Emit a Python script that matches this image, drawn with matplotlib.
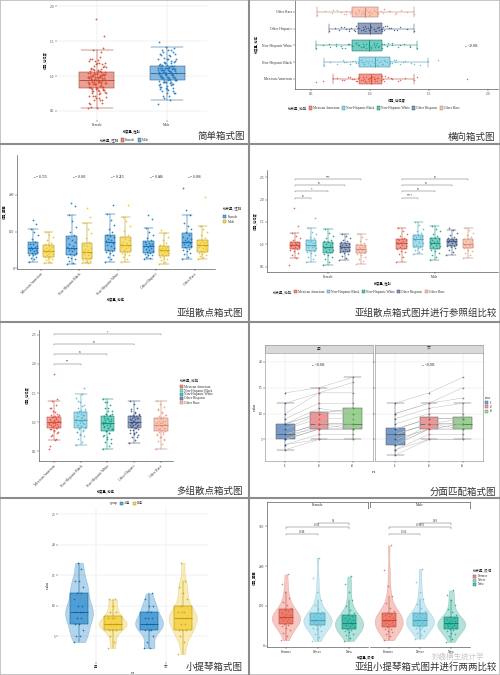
import numpy as np
import matplotlib
matplotlib.use("Agg")
import matplotlib.pyplot as plt
from matplotlib.patches import Rectangle
from matplotlib.lines import Line2D
from matplotlib.colors import to_rgba, to_rgb

W, H = 500, 675
SERIF = ['Liberation Serif', 'Noto Sans CJK SC']
CJK = ['Noto Sans CJK SC', 'DejaVu Sans']
plt.rcParams['font.family'] = SERIF
plt.rcParams['mathtext.fontset'] = 'stix'
plt.rcParams['axes.linewidth'] = 0.4

# ---------------- data ----------------
races = ['Mexican American', 'Non-Hispanic Black', 'Non-Hispanic White', 'Other Hispanic', 'Other Race']
race_colors = ['#E64B35', '#4DBBD5', '#00A087', '#3C5488', '#F39B7F']
sexes = ['Female', 'Male']
sex_colors = ['#D6452B', '#1A77C0']
jco = ['#0073C2', '#EFC000']

# 结局_伴侣度 by sex x race
f_ratio = [
    [0.54, 0.69, 0.76, 0.81, 0.85, 0.88, 0.90, 0.92, 0.94, 0.95, 0.96, 0.97, 0.985, 0.99, 1.00, 1.01, 1.02, 1.03, 1.04, 1.06, 1.09, 1.13, 1.18, 1.25, 1.40, 1.82],
    [0.61, 0.66, 0.72, 0.77, 0.80, 0.83, 0.85, 0.88, 0.91, 0.93, 0.95, 0.97, 0.985, 1.00, 1.02, 1.04, 1.06, 1.08, 1.10, 1.13, 1.17, 1.22, 1.28, 1.37, 1.58],
    [0.54, 0.60, 0.66, 0.71, 0.75, 0.79, 0.82, 0.85, 0.88, 0.90, 0.92, 0.94, 0.95, 0.97, 0.99, 1.01, 1.03, 1.05, 1.07, 1.10, 1.14, 1.19, 1.25, 1.34],
    [0.65, 0.70, 0.74, 0.78, 0.80, 0.82, 0.84, 0.86, 0.88, 0.90, 0.92, 0.94, 0.95, 0.96, 0.98, 0.99, 1.01, 1.03, 1.04, 1.07, 1.10, 1.14, 1.18, 1.23],
    [0.55, 0.62, 0.68, 0.72, 0.75, 0.78, 0.80, 0.83, 0.85, 0.87, 0.88, 0.90, 0.91, 0.92, 0.94, 0.95, 0.97, 0.99, 1.00, 1.03, 1.07, 1.12, 1.17, 1.22],
]
m_ratio = [
    [0.60, 0.72, 0.78, 0.83, 0.86, 0.89, 0.91, 0.94, 0.97, 0.99, 1.01, 1.03, 1.045, 1.06, 1.07, 1.09, 1.10, 1.11, 1.12, 1.15, 1.19, 1.24, 1.30, 1.37],
    [0.78, 0.83, 0.87, 0.90, 0.92, 0.94, 0.95, 0.99, 1.03, 1.06, 1.09, 1.11, 1.12, 1.14, 1.16, 1.17, 1.19, 1.20, 1.21, 1.25, 1.30, 1.35, 1.42, 1.49],
    [0.65, 0.71, 0.76, 0.81, 0.85, 0.88, 0.91, 0.94, 0.97, 0.99, 1.01, 1.03, 1.045, 1.06, 1.08, 1.10, 1.12, 1.14, 1.15, 1.19, 1.24, 1.29, 1.34, 1.40],
    [0.75, 0.82, 0.87, 0.91, 0.94, 0.96, 0.97, 0.99, 1.01, 1.03, 1.05, 1.06, 1.075, 1.08, 1.09, 1.10, 1.11, 1.12, 1.13, 1.16, 1.20, 1.25, 1.31, 1.37],
    [0.69, 0.75, 0.80, 0.84, 0.88, 0.91, 0.93, 0.95, 0.97, 0.98, 0.99, 1.00, 1.015, 1.03, 1.05, 1.07, 1.09, 1.11, 1.12, 1.16, 1.21, 1.26, 1.31, 1.37],
]

# second outcome (0-220) by sex x race
f_waist = [
    [18, 24, 28, 32, 35, 37, 38, 41, 44, 47, 49, 51, 53, 55, 57, 59, 62, 65, 67, 72, 80, 90, 100, 108, 122, 132],
    [11, 15, 20, 25, 29, 32, 35, 39, 43, 47, 50, 53, 55, 58, 62, 67, 72, 77, 82, 90, 100, 112, 128, 145, 170, 179],
    [16, 24, 31, 37, 41, 44, 47, 51, 56, 60, 64, 68, 71, 74, 77, 80, 84, 88, 91, 98, 107, 118, 132, 147, 173],
    [25, 29, 32, 35, 37, 39, 41, 44, 47, 50, 53, 56, 59, 61, 63, 65, 67, 69, 71, 76, 83, 91, 100, 109, 135, 145],
    [25, 32, 38, 43, 47, 50, 53, 57, 60, 63, 66, 69, 71, 73, 75, 77, 80, 83, 86, 92, 100, 108, 116, 123, 145, 160, 218],
]
m_waist = [
    [14, 18, 22, 25, 28, 30, 32, 35, 38, 41, 44, 47, 49, 51, 53, 56, 59, 62, 65, 70, 76, 84, 92, 100],
    [14, 15, 17, 19, 21, 23, 25, 28, 31, 35, 39, 42, 44, 47, 50, 53, 56, 60, 64, 72, 82, 95, 108, 123, 140, 164],
    [18, 25, 31, 36, 40, 43, 45, 49, 53, 56, 59, 62, 64, 67, 70, 73, 77, 81, 84, 92, 102, 114, 128, 140, 173],
    [11, 17, 22, 26, 29, 32, 35, 38, 41, 44, 46, 48, 50, 52, 54, 56, 58, 61, 64, 70, 78, 86, 95, 105],
    [25, 30, 34, 37, 40, 42, 44, 48, 52, 55, 58, 61, 64, 66, 68, 70, 72, 75, 77, 83, 90, 98, 106, 114, 195],
]
p_text3 = ['0.755', '0.031', '0.215', '0.046', '0.036']

# reference-group comparisons
ref_sig4_f = ['ns', '*', 'ns', '***']
ref_sig4_m = ['****', 'ns', 'ns', 'ns']
ref_sig5 = ['**', 'ns', 'ns', '*']

# paired data (subject per index), t1/t2/t3
times = ['t1', 't2', 't3']
time_colors = ['#3F6FB0', '#F06565', '#6DBE62']
paired_m = [
    [3, 4, 4, 5, 5, 5, 5, 6, 6, 6, 6, 7, 7, 8, 8, 8, 9, 10, 12, 14],
    [5, 5, 6, 8, 7, 7, 7, 8, 7, 8, 8, 9, 10, 10, 11, 10, 12, 14, 14, 15],
    [5, 5, 6, 7, 7, 7, 8, 8, 7, 8, 8, 9, 10, 11, 10, 11, 12, 14, 16, 17],
]
paired_f = [
    [2, 3, 3, 4, 4, 4, 5, 5, 6, 6, 6, 6, 7, 7, 7, 8, 9, 10, 10, 12],
    [5, 5, 6, 7, 7, 8, 7, 7, 8, 8, 8, 8, 9, 9, 9, 10, 11, 12, 12, 14],
    [5, 5, 6, 7, 7, 7, 8, 8, 8, 8, 9, 8, 9, 9, 9, 10, 12, 13, 15, 17],
]
facets6 = ['男', '女']

# violin data: sex x group
groups7 = ['A组', 'B组']
vio_m = [
    [4, 5, 5, 6, 7, 7, 8, 8, 9, 9, 9, 10, 10, 11, 12, 12, 13, 14, 14, 16, 17],
    [3, 4, 5, 6, 6, 6, 7, 7, 7, 7, 7, 7, 8, 8, 8, 9, 9, 10, 11, 11],
]
vio_f = [
    [3, 3, 4, 5, 6, 6, 6, 7, 7, 7, 7, 8, 8, 8, 9, 9, 10, 10, 11, 12],
    [2, 4, 5, 6, 6, 6, 7, 7, 8, 8, 8, 8, 9, 9, 9, 10, 11, 12, 13, 14, 17],
]

# smoking groups by sex
smoke = ['Former', 'Never', 'Now']
smoke_colors = ['#E64B35', '#4DBBD5', '#00A087']
smk_f = [
    [14, 25, 33, 40, 45, 49, 52, 55, 58, 61, 64, 67, 69, 71, 72, 74, 77, 80, 83, 87, 91, 96, 102, 110, 120, 135, 155, 179],
    [12, 22, 30, 36, 41, 45, 49, 52, 55, 57, 59, 61, 62, 63, 65, 67, 70, 73, 76, 79, 81, 86, 93, 102, 115, 135, 170, 221],
    [12, 20, 26, 30, 34, 37, 39, 43, 46, 49, 52, 54, 56, 57, 59, 62, 65, 68, 71, 74, 77, 83, 90, 100, 115, 135, 155, 174],
]
smk_m = [
    [14, 24, 30, 35, 38, 41, 43, 47, 51, 54, 57, 60, 62, 63, 65, 68, 71, 74, 77, 80, 82, 88, 96, 108, 125, 150, 190, 252],
    [18, 26, 32, 37, 41, 44, 46, 50, 53, 56, 58, 60, 62, 63, 65, 67, 70, 73, 76, 79, 81, 87, 94, 104, 118, 135, 160, 193],
    [10, 18, 24, 29, 33, 36, 39, 42, 45, 48, 50, 52, 54, 55, 57, 59, 61, 64, 67, 70, 72, 77, 84, 92, 102, 115, 128, 139],
]
pair_p8_f = ['0.048', '0.002', '0.1']
pair_p8_m = ['0.016', '0.00091', '0.18']

titles = ['简单箱式图', '横向箱式图', '亚组散点箱式图', '亚组散点箱式图并进行参照组比较',
          '多组散点箱式图', '分面匹配箱式图', '小提琴箱式图', '亚组小提琴箱式图并进行两两比较']

# ---------------- helpers ----------------
fig = plt.figure(figsize=(W / 100, H / 100), dpi=100)
fig.patch.set_facecolor('white')
renderer = fig.canvas.get_renderer()
TS = 2.6   # tick text
LS = 2.3   # axis titles


def add_ax(x0, y0, x1, y1):
    return fig.add_axes([x0 / W, 1 - y1 / H, (x1 - x0) / W, (y1 - y0) / H])


def dark(c, f=0.7):
    return tuple(np.array(to_rgb(c)) * f)


def jit(n, w):
    return ((np.arange(n) * 0.6180339887) % 1.0 - 0.5) * 2 * w


def style(ax, spines=('left', 'bottom'), grid=False):
    for s in ax.spines:
        ax.spines[s].set_visible(s in spines)
        ax.spines[s].set_color('#333333')
        ax.spines[s].set_linewidth(0.4)
    ax.tick_params(labelsize=TS, length=1.2, width=0.3, pad=0.8, colors='#333333')
    if grid:
        ax.grid(color='#e6e6e6', lw=0.35)
        ax.set_axisbelow(True)


def boxes(ax, data, pos, cols, width, alpha=0.45, horizontal=False, lw=0.35, edge=None, capw=None):
    bp = ax.boxplot(data, positions=pos, widths=width,
                    orientation='horizontal' if horizontal else 'vertical',
                    patch_artist=True, showfliers=False, manage_ticks=False,
                    capwidths=capw if capw is not None else width * 0.9, zorder=2)
    for k, c in enumerate(cols):
        ec = edge if edge else dark(c)
        bp['boxes'][k].set(facecolor=to_rgba(c, alpha), edgecolor=ec, linewidth=lw)
        bp['medians'][k].set(color=ec, linewidth=lw * 1.4)
        for art in bp['whiskers'][2 * k:2 * k + 2] + bp['caps'][2 * k:2 * k + 2]:
            art.set(color=ec, linewidth=lw)
    return bp


def dots(ax, center, vals, w, c, s=1.4, alpha=0.85, horizontal=False):
    off = center + jit(len(vals), w)
    if horizontal:
        ax.scatter(vals, off, s=s, color=c, alpha=alpha, lw=0, zorder=3)
    else:
        ax.scatter(off, vals, s=s, color=c, alpha=alpha, lw=0, zorder=3)


def violins(ax, data, pos, cols, width, alpha=0.5, bw=None):
    vp = ax.violinplot(data, positions=pos, widths=width, showextrema=False, bw_method=bw)
    for body, c in zip(vp['bodies'], cols):
        body.set_facecolor(to_rgba(c, alpha))
        body.set_edgecolor(dark(c))
        body.set_linewidth(0.35)
        body.set_zorder(1)


def bracket(ax, x1, x2, y, label, h, fs=2.2):
    ax.plot([x1, x1, x2, x2], [y - h, y, y, y - h], color='#555555', lw=0.3)
    ax.text((x1 + x2) / 2, y, label, ha='center', va='bottom', fontsize=fs, color='#333333')


def ftext(x, y, s, **kw):
    return fig.text(x / W, 1 - y / H, s, **kw)


def square(x, y, c, size=3.0):
    fig.add_artist(Rectangle((x / W, 1 - (y + size / 2) / H), size / W, size / H,
                             transform=fig.transFigure, facecolor=to_rgba(c, 0.6),
                             edgecolor=dark(c), lw=0.3))


def hlegend(x, y, title, labels, cols, fs=2.5):
    t = ftext(x, y, title, fontsize=fs, va='center', color='#333333')
    cur = x + t.get_window_extent(renderer).width + 2
    for lab, c in zip(labels, cols):
        square(cur, y, c)
        cur += 4
        t = ftext(cur, y, lab, fontsize=fs, va='center', color='#333333')
        cur += t.get_window_extent(renderer).width + 2.5


def vlegend(x, y, title, labels, cols, ys, fs=2.5):
    ftext(x, y, title, fontsize=fs, va='center', color='#333333')
    for lab, c, yy in zip(labels, cols, ys):
        square(x, yy, c)
        ftext(x + 4.5, yy, lab, fontsize=fs, va='center', color='#333333')


def strip(x0, y0, x1, y1, text, fc, ec):
    sa = add_ax(x0, y0, x1, y1)
    sa.set_facecolor(fc)
    sa.set_xticks([])
    sa.set_yticks([])
    for s in sa.spines.values():
        s.set_color(ec)
        s.set_linewidth(0.4)
    sa.text(0.5, 0.5, text, ha='center', va='center', fontsize=2.8, transform=sa.transAxes,
            color='#333333')


# ---------------- panel 1: simple box ----------------
ax = add_ax(57, 0, 207, 120)
style(ax, spines=(), grid=True)
sex_ratio = [sum(f_ratio, []), sum(m_ratio, [])]
boxes(ax, sex_ratio, [1, 2], sex_colors, 0.5, alpha=0.5)
for k in range(2):
    dots(ax, k + 1, sex_ratio[k], 0.13, sex_colors[k], s=1.8)
ax.set_xlim(0.43, 2.57)
ax.set_ylim(0.37, 2.09)
ax.set_yticks([0.5, 1.0, 1.5, 2.0])
ax.set_xticks([1, 2], sexes)
ax.set_xlabel('协变量_性别', fontsize=LS, labelpad=2)
ax.set_ylabel('结局_伴侣度', fontsize=LS, labelpad=2)
hlegend(100, 140, '协变量_性别', sexes, sex_colors)

# ---------------- panel 2: horizontal box ----------------
ax = add_ax(295, 0, 498, 89)
style(ax)
race_ratio = [f_ratio[i] + m_ratio[i] for i in range(5)]
boxes(ax, race_ratio, [1, 2, 3, 4, 5], race_colors, 0.62, alpha=0.55, horizontal=True)
for i in range(5):
    dots(ax, i + 1, race_ratio[i], 0.16, race_colors[i], s=1.1, horizontal=True)
ax.set_xlim(0.364, 2.085)
ax.set_ylim(0.4, 5.71)
ax.set_xticks([0.5, 1.0, 1.5, 2.0], ['0.5', '1.0', '1.5', '2.0'])
ax.set_yticks([1, 2, 3, 4, 5], races)
ax.text(1.86, 3, r'$P$ < 0.001', fontsize=2.5, ha='center', va='center')
ax.set_xlabel('结局_伴侣度', fontsize=LS, labelpad=2)
ax.set_ylabel('协变量_种族', fontsize=LS, labelpad=2)
hlegend(288, 108, '协变量_种族', races, race_colors)

# ---------------- panel 3: subgroup scatter box ----------------
ax = add_ax(17, 155, 215, 269)
style(ax)
for j, grp in enumerate([f_waist, m_waist]):
    pos = [i + 1 + (j - 0.5) * 0.4 for i in range(5)]
    boxes(ax, grp, pos, [jco[j]] * 5, 0.27, alpha=0.5)
    for i in range(5):
        dots(ax, pos[i], grp[i], 0.12, jco[j], s=1.6)
for i in range(5):
    ax.text(i + 1, 240, r'$P$ = ' + p_text3[i], fontsize=2.4, ha='center', va='bottom')
ax.set_xlim(0.38, 5.53)
ax.set_ylim(-2, 309)
ax.set_yticks([0, 100, 200])
ax.set_xticks([1, 2, 3, 4, 5])
ax.set_xticklabels(races, rotation=45, ha='right', rotation_mode='anchor')
ax.set_xlabel('协变量_种族', fontsize=LS, labelpad=1.5)
ax.set_ylabel('结局_腰围', fontsize=LS, labelpad=1.5)
vlegend(223, 208.5, '协变量_性别', sexes, jco, [216.7, 221.7])

# ---------------- panel 4: subgroup boxes with reference comparison ----------------
ax = add_ax(267, 170, 498, 272)
style(ax)
step4 = 0.156
for j, grp in enumerate([f_ratio, m_ratio]):
    pos = [j + 1 + (i - 2) * step4 for i in range(5)]
    boxes(ax, grp, pos, race_colors, 0.095, alpha=0.5)
    for i in range(5):
        dots(ax, pos[i], grp[i], 0.05, race_colors[i], s=1.4)
    sig = [ref_sig4_f, ref_sig4_m][j]
    for i in range(4):
        bracket(ax, pos[0], pos[i + 1], 2.04 + i * 0.14, sig[i], 0.02)
ax.set_xlim(0.43, 2.59)
ax.set_ylim(0.38, 2.66)
ax.set_yticks([0.5, 1.0, 1.5, 2.0, 2.5])
ax.set_xticks([1, 2], sexes)
ax.set_xlabel('协变量_性别', fontsize=LS, labelpad=2)
ax.set_ylabel('结局_伴侣度', fontsize=LS, labelpad=2)
hlegend(273, 292, '协变量_种族', races, race_colors)

# ---------------- panel 5: multi-group scatter box ----------------
ax = add_ax(39, 330, 173, 461)
style(ax)
boxes(ax, race_ratio, [1, 2, 3, 4, 5], race_colors, 0.49, alpha=0.5)
for i in range(5):
    dots(ax, i + 1, race_ratio[i], 0.18, race_colors[i], s=1.6)
for i in range(4):
    bracket(ax, 1, i + 2, 2.0 + i * 0.17, ref_sig5[i], 0.02)
ax.set_xlim(0.44, 5.45)
ax.set_ylim(0.337, 2.58)
ax.set_yticks([0.5, 1.0, 1.5, 2.0, 2.5])
ax.set_xticks([1, 2, 3, 4, 5])
ax.set_xticklabels(races, rotation=45, ha='right', rotation_mode='anchor')
ax.set_xlabel('协变量_种族', fontsize=LS, labelpad=1.5)
ax.set_ylabel('结局_伴侣度', fontsize=LS, labelpad=1.5)
vlegend(180, 380, '协变量_种族', races, race_colors, [386.7, 390.7, 394.5, 398.4, 402.5])

# ---------------- panel 6: faceted paired boxes ----------------
for f, (x0, x1, pdata) in enumerate([(265, 373, paired_m), (375, 483, paired_f)]):
    strip(x0, 345, x1, 353, facets6[f], '#d9d9d9', '#888888')
    ax = add_ax(x0, 353, x1, 461)
    style(ax, spines=('left', 'bottom', 'right', 'top'), grid=True)
    for s in ax.spines.values():
        s.set_color('#888888')
    boxes(ax, pdata, [1, 2, 3], time_colors, 0.55, alpha=0.7, edge='#555555')
    for n in range(len(pdata[0])):
        ax.plot([1, 2, 3], [pdata[0][n], pdata[1][n], pdata[2][n]], color='#b5b5b5', lw=0.3, zorder=3)
    for k in range(3):
        ax.scatter([k + 1] * len(pdata[k]), pdata[k], s=1.4, color=dark(time_colors[k], 0.8), lw=0, zorder=4)
    ax.text(2, 19.5, r'$P$ < 0.001', fontsize=2.5, ha='center', va='center')
    ax.set_xlim(0.4, 3.6)
    ax.set_ylim(0.83, 21.7)
    ax.set_yticks([5, 10, 15, 20])
    ax.set_xticks([1, 2, 3], times)
    if f == 0:
        ax.set_ylabel('value', fontsize=LS, labelpad=1.5)
    else:
        ax.set_yticklabels([])
ftext(374, 472, 'sex', fontsize=LS, ha='center', va='center')
vlegend(485, 398.3, 'time', times, time_colors, [402.7, 406.7, 411.0])

# ---------------- panel 7: violin + box ----------------
ax = add_ax(58, 508, 208, 662)
style(ax, spines=(), grid=True)
vio = [vio_m, vio_f]
for j in range(2):
    pos = [s + 1 + (j - 0.5) * 0.48 for s in range(2)]
    dat = [vio[0][j], vio[1][j]]
    violins(ax, dat, pos, [jco[j]] * 2, 0.4, alpha=0.45, bw=0.35)
    boxes(ax, dat, pos, [jco[j]] * 2, 0.26, alpha=0.55, capw=0)
    for s in range(2):
        dots(ax, pos[s], dat[s], 0.07, dark(jco[j], 0.85), s=1.4)
ax.set_xlim(0.46, 2.6)
ax.set_ylim(0.74, 26)
ax.set_yticks([5, 10, 15, 20, 25])
ax.set_xticks([1, 2], facets6)
ax.set_xlabel('sex', fontsize=LS, labelpad=1.5)
ax.set_ylabel('value', fontsize=LS, labelpad=1.5)
hlegend(110, 503, 'group', groups7, jco)

# ---------------- panel 8: faceted violins with pairwise comparison ----------------
for f, (x0, x1, vdata, ptxt) in enumerate([(267, 368, smk_f, pair_p8_f), (370, 470, smk_m, pair_p8_m)]):
    strip(x0, 502, x1, 507.5, sexes[f], 'white', '#333333')
    ax = add_ax(x0, 507.5, x1, 647)
    style(ax, spines=('left', 'bottom') if f == 0 else ('bottom',))
    violins(ax, vdata, [1, 2, 3], smoke_colors, 0.9, alpha=0.55, bw=0.4)
    boxes(ax, vdata, [1, 2, 3], smoke_colors, 0.45, alpha=0.6, capw=0)
    for k in range(3):
        dots(ax, k + 1, vdata[k], 0.16, smoke_colors[k], s=1.3, alpha=0.75)
    bracket(ax, 1, 2, 281, ptxt[0], 4, fs=2.0)
    bracket(ax, 1, 3, 297.5, ptxt[1], 4, fs=2.0)
    bracket(ax, 2, 3, 307.5, ptxt[2], 4, fs=2.0)
    ax.set_xlim(0.4, 3.6)
    ax.set_ylim(-3, 347)
    ax.set_xticks([1, 2, 3], smoke)
    if f == 0:
        ax.set_yticks([0, 100, 200, 300])
        ax.set_ylabel('结局_腰围', fontsize=LS, labelpad=1.5)
    else:
        ax.set_yticks([])
ftext(357, 657, '协变量_吸烟', fontsize=LS, ha='left', va='center')
vlegend(473, 570, '协变量_吸烟', smoke, smoke_colors, [576, 580, 584])

# ---------------- titles, watermark, card separators ----------------
title_pos = [(245, 137), (495, 137), (243, 313), (497, 313),
             (243, 491), (496, 492), (243, 667), (497, 667)]
for t, (x, y) in zip(titles, title_pos):
    ftext(x, y, t, fontsize=6.8, ha='right', va='center', family=CJK, color='#333333')
ftext(432, 656.5, '妙趣横生统计学', fontsize=5.4, ha='left', va='center', family=CJK,
      color='#9a9a9a', alpha=0.55)

for x in [249]:
    fig.add_artist(Line2D([x / W, x / W], [0, 1], transform=fig.transFigure, color='#8c8c8c', lw=1.5))
for y in [144, 322, 498]:
    fig.add_artist(Line2D([0, 1], [1 - y / H, 1 - y / H], transform=fig.transFigure, color='#8c8c8c', lw=1.5))
fig.add_artist(Rectangle((0, 0), 1, 1, transform=fig.transFigure, fill=False, edgecolor='#bbbbbb', lw=1.2))

fig.savefig('out.png', dpi=100, facecolor='white')
